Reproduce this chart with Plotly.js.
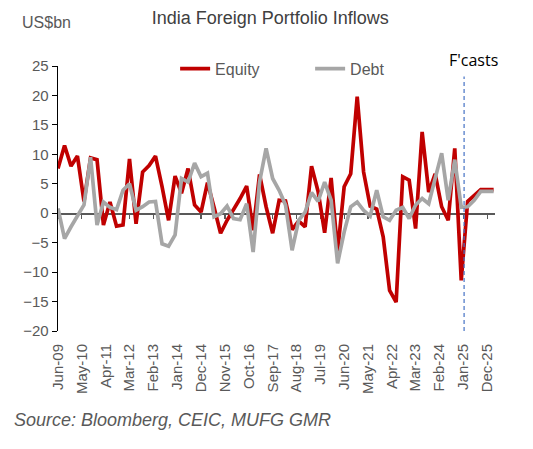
<!DOCTYPE html>
<html>
<head>
<meta charset="utf-8">
<script src="https://cdn.plot.ly/plotly-3.0.1.min.js"></script>
<style>html,body{margin:0;padding:0;background:#fff;}#chart{width:533px;height:449px;}</style>
</head>
<body>
<div id="chart"></div>
<script>
// Quarterly series, Jun-09 .. Mar-26 (last points are forecasts)
const startYear = 2009, startMonth = 6, stepMonths = 3;
const equity = [7.6, 11.5, 8.0, 9.7, 2.0, 9.4, 9.1, -2.0, 1.9, -2.2,
  -2.0, 9.2, -1.8, 7.0, 8.1, 9.7, 4.5, -1.2, 6.3, 3.4,
  7.6, 1.4, 0.2, 5.2, 1.0, -3.4, -1.2, 0.5, 2.5, 4.6,
  -2.9, 6.6, 1.1, -3.4, 2.2, 2.1, -2.8, -1.3, -2.3, 8.0,
  3.7, -3.3, 6.0, -6.5, 4.5, 6.7, 19.8, 7.0, 1.2, 0.7,
  -4.0, -13.1, -15.1, 6.2, 5.6, -2.6, 13.8, 3.6, 6.7, 1.1,
  -1.2, 11.0, -11.4, 2.0, 3.0, 4.0, 4.0, 4.0];
const debt = [0.8, -4.3, -2.3, -0.6, 1.4, 9.5, -2.0, 1.9, 1.0, 0.6,
  3.9, 5.0, 0.5, 1.1, 1.9, 2.0, -5.2, -5.6, -3.7, 5.9,
  5.3, 8.5, 6.2, 6.8, -0.6, -0.1, 1.2, -0.9, -1.1, 1.6,
  -6.6, 5.3, 11.0, 5.9, 3.9, 1.4, -6.3, -1.2, 0.2, 3.5,
  2.0, 5.3, 2.2, -8.5, -3.2, 1.1, 1.9, 0.5, -0.5, 3.9,
  -0.6, -1.2, 0.5, 1.0, -0.9, 1.4, 2.5, 1.6, 5.9, 10.2,
  2.2, 9.1, 1.0, 1.1, 2.2, 3.7, 3.7, 3.7];
const tickLabels = ['Jun-09','May-10','Apr-11','Mar-12','Feb-13','Jan-14','Dec-14','Nov-15','Oct-16',
  'Sep-17','Aug-18','Jul-19','Jun-20','May-21','Apr-22','Mar-23','Feb-24','Jan-25','Dec-25'];
const forecastStart = '2025-01-10';
const yTicks = [-20, -15, -10, -5, 0, 5, 10, 15, 20, 25];

function pad(n){return (n<10?'0':'')+n;}
const quarters = equity.map((_, i) => {
  const m = startMonth - 1 + i * stepMonths;
  return (startYear + Math.floor(m / 12)) + '-' + pad(m % 12 + 1) + '-01';
});
const MON = {Jan:1,Feb:2,Mar:3,Apr:4,May:5,Jun:6,Jul:7,Aug:8,Sep:9,Oct:10,Nov:11,Dec:12};
const tickVals = tickLabels.map(s => { const p = s.split('-'); return '20' + p[1] + '-' + pad(MON[p[0]]) + '-01'; });

const FONT = 'Liberation Sans, Arial, sans-serif';
const GREY = '#595959';

const traces = [
  {x: quarters, y: equity, name: 'Equity', type: 'scatter', mode: 'lines',
   line: {color: '#C00000', width: 3.7}, xaxis: 'x', yaxis: 'y'},
  {x: quarters, y: debt, name: 'Debt', type: 'scatter', mode: 'lines',
   line: {color: '#A6A6A6', width: 3.7}, xaxis: 'x2', yaxis: 'y'}
];

const layout = {
  width: 533, height: 449,
  margin: {l: 58, r: 38, t: 66, b: 118},
  paper_bgcolor: '#fff', plot_bgcolor: 'rgba(0,0,0,0)',
  font: {family: FONT, color: GREY},
  title: {text: 'India Foreign Portfolio Inflows', x: 0.507, xref: 'container', xanchor: 'center',
          y: 0.96, yref: 'container', yanchor: 'middle', font: {size: 18, color: '#404040', family: FONT}},
  showlegend: true,
  legend: {orientation: 'h', x: 0.268, xanchor: 'left', y: 0.99, yanchor: 'middle',
           font: {size: 16, color: GREY, family: FONT}, bgcolor: 'rgba(0,0,0,0)',
           entrywidth: 90, traceorder: 'normal'},
  xaxis: {type: 'date', range: ['2009-06-01', '2026-03-20'], showgrid: false, zeroline: false,
          showline: false, ticks: '', tickmode: 'array', tickvals: tickVals, ticktext: tickLabels,
          tickangle: -90, tickfont: {size: 15, color: GREY, family: FONT}, ticklabelstandoff: 9},
  xaxis2: {type: 'date', overlaying: 'x', matches: 'x', anchor: 'free', position: 20/45, side: 'bottom',
           showgrid: false, zeroline: false, showline: true, linecolor: GREY, linewidth: 1.5,
           ticks: 'outside', ticklen: 4, tickwidth: 1.2, tickcolor: GREY, tickmode: 'array',
           tickvals: tickVals, showticklabels: false, layer: 'below traces'},
  yaxis: {range: [-20, 25], tickmode: 'array', tickvals: yTicks, showgrid: false, zeroline: false,
          showline: true, linecolor: '#000', linewidth: 1.3, ticks: 'outside', ticklen: 5,
          tickcolor: '#000', tickfont: {size: 15, color: GREY, family: FONT}},
  shapes: [
    {type: 'line', xref: 'x', yref: 'y', x0: forecastStart, x1: forecastStart, y0: -20, y1: 23.2,
     line: {color: '#4472C4', width: 1.2, dash: '4px,3px'}}
  ],
  annotations: [
    {text: "F'casts", xref: 'paper', yref: 'paper', x: 0.95, y: 1.023, xanchor: 'center', yanchor: 'middle',
     showarrow: false, font: {size: 16, color: '#000', family: 'Open Sans, sans-serif'}},
    {text: 'US$bn', xref: 'paper', yref: 'paper', x: -0.087, y: 1.166, xanchor: 'left', yanchor: 'middle',
     showarrow: false, font: {size: 16, color: GREY, family: FONT}},
    {text: '<i>Source: Bloomberg, CEIC, MUFG GMR</i>', xref: 'paper', yref: 'paper', x: -0.105, y: -0.336,
     xanchor: 'left', yanchor: 'middle', showarrow: false, font: {size: 18, color: GREY, family: FONT}}
  ]
};

Plotly.newPlot('chart', traces, layout, {displayModeBar: false, staticPlot: true});
</script>
</body>
</html>
